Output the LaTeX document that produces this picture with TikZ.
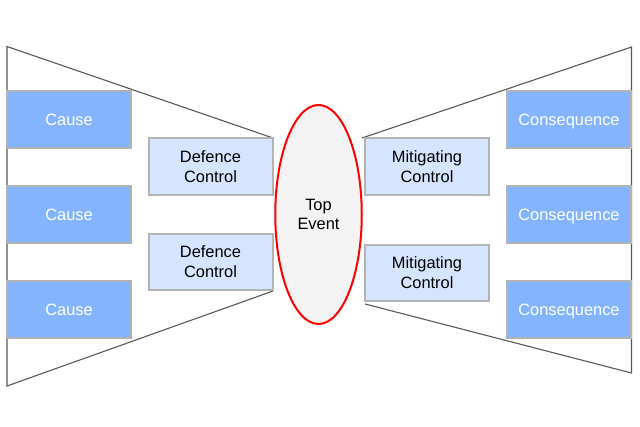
\documentclass[tikz,border=0pt]{standalone}
\usepackage{fontspec}
\setmainfont{Liberation Sans}
\usetikzlibrary{shapes.geometric}
\definecolor{causeblue}{HTML}{85B4FF}
\definecolor{ctrlblue}{HTML}{D5E5FD}
\definecolor{edgegray}{HTML}{B3B3B3}
\definecolor{linegray}{HTML}{595959}
\definecolor{evgray}{HTML}{F3F3F3}
\tikzset{
  labelfont/.style={font=\fontsize{16.4}{19.8}\selectfont},
  base/.style={rectangle,draw=edgegray,line width=2pt,minimum width=124pt,minimum height=56.5pt,inner sep=0pt,align=center,labelfont},
  dark/.style={base,fill=causeblue,text=white},
  light/.style={base,fill=ctrlblue,text=black},
  wedge/.style={draw=linegray,line width=1.1pt}
}
\begin{document}
\begin{tikzpicture}[x=1pt,y=-1pt]
\useasboundingbox (0,0) rectangle (640,427);
\fill[white] (0,0) rectangle (640,427);
\coordinate (ltop) at (7,46.5);
\coordinate (lbot) at (7,386);
\coordinate (ltip1) at (273,138);
\coordinate (ltip2) at (273,291);
\coordinate (rtop) at (631.5,47);
\coordinate (rbot) at (631.5,373);
\coordinate (rtip1) at (362,138);
\coordinate (rtip2) at (365,304);
\draw[wedge] (ltip1) -- (ltop) -- (lbot) -- (ltip2);
\draw[wedge] (rtip1) -- (rtop) -- (rbot) -- (rtip2);
\node[dark] (c1) at (69,119.5) {Cause};
\node[dark] (c2) at (69,214.5) {Cause};
\node[dark] (c3) at (69,309.5) {Cause};
\node[light] (d1) at (210.5,166.5) {Defence\\Control};
\node[light] (d2) at (210.5,262) {Defence\\Control};
\node[ellipse,draw=red,line width=2pt,fill=evgray,minimum width=86.5pt,minimum height=219pt,inner sep=0pt,align=center,labelfont] (top) at (318.5,214.5) {Top\\Event};
\node[light] (m1) at (427,166.5) {Mitigating\\Control};
\node[light] (m2) at (427,273) {Mitigating\\Control};
\node[dark] (q1) at (569,119.5) {\raisebox{0pt}[\height][0pt]{Consequence}};
\node[dark] (q2) at (569,214.5) {\raisebox{0pt}[\height][0pt]{Consequence}};
\node[dark] (q3) at (569,309.5) {\raisebox{0pt}[\height][0pt]{Consequence}};
\end{tikzpicture}
\end{document}
